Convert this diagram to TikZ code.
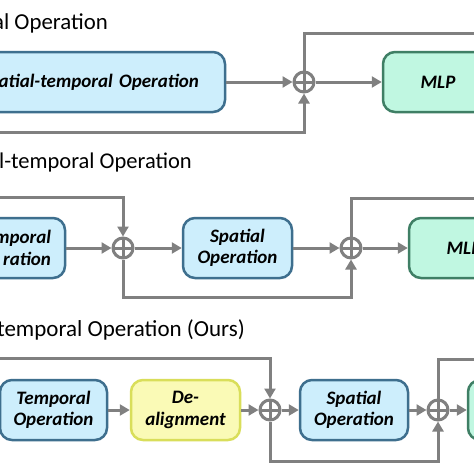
\documentclass[tikz,border=0pt]{standalone}
\usepackage{fontspec}
\setmainfont{Carlito}
\usetikzlibrary{arrows.meta}
\definecolor{bluefill}{HTML}{CDEEFC}
\definecolor{blueedge}{HTML}{3E6F8E}
\definecolor{greenfill}{HTML}{C0F7E1}
\definecolor{greenedge}{HTML}{3F7F65}
\definecolor{yellowfill}{HTML}{FAFAB6}
\definecolor{yellowedge}{HTML}{D9DE5A}
\definecolor{linegray}{HTML}{808080}
\tikzset{
  opbox/.style={draw, rounded corners=12pt, line width=2.5pt, minimum height=60pt,
    inner sep=0pt, font=\fontsize{19}{21.5}\selectfont\bfseries\itshape, align=center},
  bluebox/.style={opbox, fill=bluefill, draw=blueedge},
  greenbox/.style={opbox, fill=greenfill, draw=greenedge},
  yellowbox/.style={opbox, fill=yellowfill, draw=yellowedge},
  conn/.style={draw=linegray, line width=3pt},
  arr/.style={conn, -{Triangle[length=10pt,width=11pt]}},
  addnode/.style={circle, draw=linegray, line width=3pt, minimum size=20pt, inner sep=0pt,
    path picture={\draw[linegray, line width=3pt]
      (path picture bounding box.north) -- (path picture bounding box.south)
      (path picture bounding box.west) -- (path picture bounding box.east);}},
  titletext/.style={anchor=base east, inner sep=0pt, font=\fontsize{22.5}{27}\selectfont},
}
\begin{document}
\begin{tikzpicture}[x=1pt,y=-1pt]
\useasboundingbox (0,0) rectangle (474,474);
\clip (0,0) rectangle (474,474);
\fill[white] (0,0) rectangle (474,474);

% ---------- panel 1 ----------
\node[titletext, font=\fontsize{22.8}{27}\selectfont] (title1) at (108,29) {al Operation};
\node[bluebox, text width=233pt, align=right, inner xsep=26pt] (st1) at (82.5,82) {atial-temporal Operation};
\node[addnode] (a1) at (304,82) {};
\node[greenbox, minimum width=110pt] (m1) at (438,82) {MLP};
\coordinate (in1) at (-10,132);
\coordinate (out1) at (490,33);
\draw[arr] (st1) -- (a1);
\draw[arr] (a1) -- (m1);
\draw[arr] (in1) -| (a1);
\draw[conn] (a1) |- (out1);

% ---------- panel 2 ----------
\node[titletext] (title2) at (192,168) {l-temporal Operation};
\node[bluebox, text width=80pt, align=right, inner xsep=14pt] (tp2) at (11,248) {mporal\\ration};
\node[addnode] (a2) at (123,248) {};
\node[bluebox, minimum width=109pt] (sp2) at (237.5,248) {Spatial\\Operation};
\node[addnode] (a3) at (351,248) {};
\node[greenbox, minimum width=110pt] (m2) at (464,248) {MLP};
\coordinate (in2) at (-10,197);
\coordinate (out2) at (490,198);
\draw[arr] (in2) -| (a2);
\draw[arr] (tp2) -- (a2);
\draw[arr] (a2) -- (sp2);
\draw[arr] (a2.south) -- ++(0,38) -| (a3.south);
\draw[arr] (sp2) -- (a3);
\draw[arr] (a3) -- (m2);
\draw[conn] (a3) |- (out2);

% ---------- panel 3 ----------
\node[titletext, font=\fontsize{23}{27}\selectfont] (title3) at (245,336) {temporal Operation (Ours)};
\node[bluebox, minimum width=107pt] (tp3) at (53.5,410) {Temporal\\Operation};
\node[yellowbox, minimum width=109pt] (da3) at (185.5,410) {De-\\alignment};
\node[addnode] (a4) at (270,410) {};
\node[bluebox, minimum width=108pt] (sp3) at (354,410) {Spatial\\Operation};
\node[addnode] (a5) at (438,410) {};
\node[greenbox, minimum width=110pt] (m3) at (523,410) {};
\coordinate (in3) at (-10,358);
\coordinate (out3) at (490,359);
\draw[arr] (in3) -| (a4);
\draw[arr] (tp3) -- (da3);
\draw[arr] (da3) -- (a4);
\draw[arr] (a4) -- (sp3);
\draw[arr] (a4.south) -- ++(0,40) -| (a5.south);
\draw[arr] (sp3) -- (a5);
\draw[arr] (a5) -- (m3);
\draw[conn] (a5) |- (out3);
\end{tikzpicture}
\end{document}
